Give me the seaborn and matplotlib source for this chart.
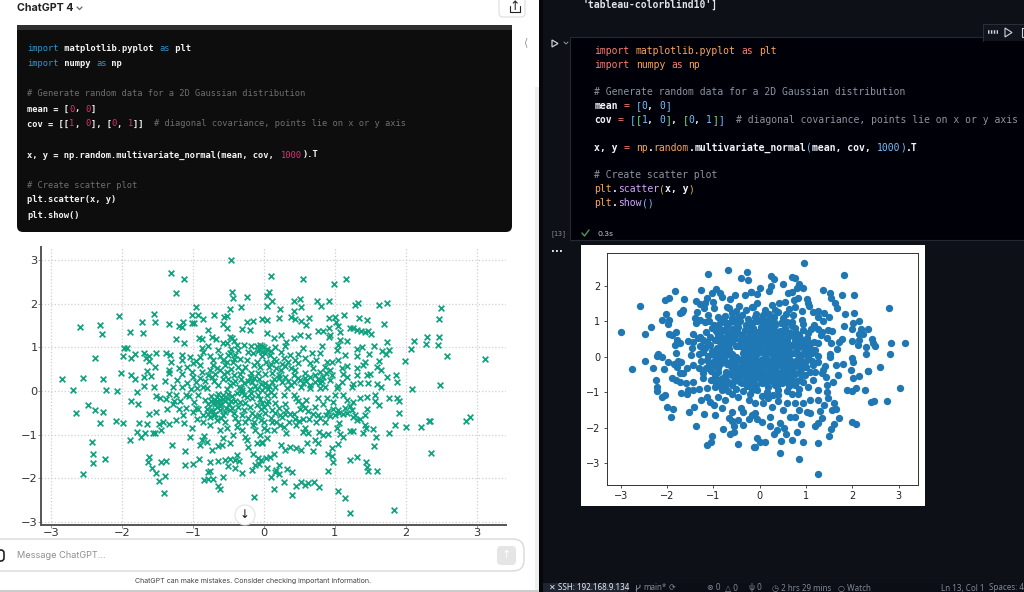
import matplotlib
matplotlib.use('Agg')
import matplotlib.pyplot as plt
from matplotlib.patches import Rectangle, FancyBboxPatch, Circle, Polygon
import pandas as pd
import seaborn as sns

W, H = 1024, 592

gpt_upper = [
    (-0.46,3.00),(-1.30,2.70),(-1.12,2.57),(-1.24,2.25),(-0.45,2.26),(-0.43,2.12),(-0.23,2.16),(-0.32,1.93),
    (-0.48,1.88),(-0.96,1.92),(-1.55,1.77),(-2.04,1.72),(-2.59,1.46),(-2.31,1.50),(-2.28,1.31),(-1.88,1.35),
    (-1.72,1.58),(-1.70,1.32),(-1.53,1.59),(-1.34,1.54),(-1.13,1.58),(-1.20,1.49),(-1.15,1.46),(-1.01,1.75),
    (-0.93,1.75),(-0.86,1.65),(-1.01,1.55),(-0.98,1.56),(-0.70,1.73),(-0.56,1.70),(-0.52,1.72),(-0.24,1.59),
    (-0.31,1.43),(-0.58,1.53),(-0.78,1.40),(-1.24,1.20),(-1.12,1.09),(-0.91,1.21),(-0.87,1.18),(-0.73,1.23),
    (-0.67,1.20),(-0.52,1.44),(-0.47,1.24),(-0.45,1.21),(-0.52,1.09),(-0.42,1.15),(-0.38,1.05),(-0.28,1.05),
    (-0.20,1.40),(-0.15,1.60),(0.10,2.63),(0.55,2.57),(0.99,2.44),(1.16,2.56),(0.08,2.26),(0.04,2.18),
    (0.12,2.07),(0.05,1.95),(0.42,2.05),(0.51,2.11),(0.52,1.92),(0.23,1.88),(0.43,1.83),(0.75,2.07),
    (0.81,1.95),(0.92,2.05),(1.28,1.96),(1.33,2.02),(1.62,1.96),(1.73,2.01),(2.50,1.89),(2.47,1.65),
    (1.13,1.74),(1.00,1.70),(0.92,1.66),(0.64,1.68),(0.21,1.66),(0.39,1.69),(0.44,1.64),(0.53,1.60),
    (0.60,1.50),(1.34,1.66),(1.46,1.62),(1.69,1.53),(-0.02,1.64),(0.05,1.63),(1.02,1.59),(1.05,1.49),
    (1.21,1.45),(1.26,1.45),(1.32,1.40),(1.37,1.38),(1.43,1.36),(1.47,1.37),(1.51,1.31),(0.77,1.38),
    (0.84,1.38),(0.92,1.44),(1.08,1.34),(0.94,1.28),(0.92,1.24),(1.17,1.15),(1.05,1.06),(1.07,1.17),
    (1.74,1.12),(1.56,1.03),(2.30,1.23),(2.29,1.08),(2.47,1.23),(2.46,1.05),(2.12,1.14),(2.08,0.97),
    (2.58,0.80),(3.12,0.73),(1.99,0.69),(2.48,0.14),(2.09,0.04),(1.86,0.37),(1.88,0.21),(1.74,0.31),
    (1.76,0.94),(1.67,0.92),(1.72,0.85),(1.48,0.84),(1.62,0.69),(1.60,0.54),(1.65,0.48),(1.59,0.16),
    (1.65,0.10),(1.38,1.00),(1.32,0.97),(1.32,0.79),(1.43,0.67),(1.40,0.60),(1.31,0.52),(1.32,0.37),
    (1.45,0.37),(1.50,0.40),(1.47,0.18),(1.36,0.18),(1.26,0.16),(1.04,0.11),(1.18,0.57),(1.10,0.52),
    (1.11,0.39),(1.18,0.33),(1.15,0.82),(1.03,0.94),(1.05,0.71),(0.96,0.67),(0.89,0.67),(0.82,1.02),
    (0.79,0.86),(0.68,0.86),(0.55,0.99),(0.37,0.82),(0.30,1.02),(0.32,1.13),(0.42,1.21),(0.51,1.28),
    (0.63,1.26),(0.25,1.28),(0.14,1.21),(0.04,1.32),(-0.03,1.02),(0.09,0.82),(0.28,0.75),(0.58,0.75),
    (0.49,0.63),(0.39,0.52),(0.65,0.63),(0.70,0.52),(0.79,0.44),(0.84,0.33),(0.72,0.37),(0.65,0.33),
    (0.18,0.52),(0.07,0.56),(0.21,0.37),(0.30,0.33),(0.42,0.37),(0.51,0.25),(0.42,0.21),(0.79,0.18),
    (0.65,0.14),(0.02,0.18),(0.16,0.10),(0.96,0.37),(0.93,0.25),
    (-2.84,0.28),(-2.54,0.30),(-2.26,0.27),(-2.01,0.42),(-1.87,0.37),(-1.81,0.27),(-1.69,0.33),(-1.65,0.46),
    (-1.59,0.35),(-1.53,0.56),(-1.39,0.24),(-1.34,0.48),(-1.34,0.42),(-1.20,0.53),(-1.15,0.39),(-1.08,0.18),
    (-1.01,0.44),(-0.99,0.63),(-1.04,0.77),(-0.90,0.60),(-0.87,0.44),(-0.78,0.37),(-0.73,0.33),(-0.87,0.98),
    (-0.78,1.04),(-0.85,0.90),(-0.76,0.79),(-0.71,0.71),(-0.64,0.94),(-0.57,1.09),(-0.47,0.86),(-0.43,0.67),
    (-0.36,0.94),(-0.22,0.90),(-0.10,1.02),(-0.05,1.05),(-0.15,0.86),(-0.26,0.56),(-0.10,0.67),(-0.33,0.40),
    (-0.19,0.33),(-0.62,0.48),(-0.52,0.44),(-0.66,0.52),(-0.43,0.18),(-0.64,0.14),(-0.85,0.10),(-1.15,0.10),
    (-1.55,0.10),(-1.69,0.11),(-1.97,0.98),(-1.92,0.98),(-1.98,0.81),(-1.87,0.75),(-1.81,0.85),(-1.69,0.88),
    (-1.62,0.81),(-1.66,0.75),(-1.62,0.69),(-1.52,0.88),(-1.38,0.86),(-1.32,0.82),(-1.31,0.67),(-1.15,0.82),
    (-1.15,0.71),(-2.38,0.75),
]
gpt_lower = [
    (-2.69,0.02),(-2.22,0.02),(-2.06,0.01),(-1.79,-0.02),(-2.64,-0.51),(-2.47,-0.33),(-2.38,-0.44),(-2.26,-0.48),
    (-2.30,-0.73),(-1.87,-0.23),(-1.77,-0.30),(-2.08,-0.68),(-1.98,-0.74),(-1.75,-0.73),(-1.65,-0.76),(-1.62,-0.53),
    (-1.52,-0.47),(-1.52,-0.11),(-1.46,-0.17),(-1.37,-0.18),(-1.33,-0.07),(-1.36,-0.41),(-1.48,-0.76),(-1.42,-0.72),
    (-1.33,-0.75),(-1.24,-0.66),(-1.12,-0.74),(-1.01,-0.84),(-1.45,-0.89),(-1.56,-0.96),(-1.53,-0.95),(-1.67,-0.97),
    (-1.78,-0.93),(-1.73,-1.05),(-1.89,-1.12),(-2.42,-1.17),(-2.40,-1.44),(-2.41,-1.64),(-2.23,-1.56),(-2.54,-1.91),
    (-1.62,-1.52),(-1.63,-1.62),(-1.57,-1.76),(-1.52,-1.87),(-1.47,-2.06),(-1.39,-1.95),(-1.40,-2.34),(-1.45,-1.63),
    (-1.37,-1.61),(-1.29,-1.24),(-1.11,-1.37),(-1.11,-1.69),(-1.00,-1.66),(-0.91,-1.56),(-1.04,-1.06),(-0.75,-1.63),
    (-0.64,-1.60),(-0.78,-1.85),(-0.75,-1.83),(-0.84,-2.04),(-0.78,-2.02),(-0.72,-2.02),(-0.58,-1.97),(-0.65,-2.18),
    (-0.62,-2.25),(-0.13,-2.43),(-0.54,-1.58),(-0.47,-1.56),(-0.50,-1.72),(-0.41,-1.76),(-0.38,-1.47),(-0.40,-1.58),
    (-0.35,-1.60),(-0.30,-1.88),(-0.17,-1.81),(-0.12,-1.69),(-0.06,-1.66),(-0.15,-1.45),(-0.08,-1.53),(-0.73,-1.35),
    (-0.90,-1.24),(-0.87,-1.12),(-0.84,-1.02),(-0.80,-1.16),(-0.64,-1.26),(-0.59,-1.24),(-0.57,-1.08),(-0.47,-1.20),
    (-0.43,-1.01),(-0.61,-0.89),(-0.76,-0.78),(-0.85,-0.70),(-0.52,-0.85),(-0.54,-0.72),(-0.38,-0.82),(-0.31,-0.89),
    (-0.24,-1.12),(-0.22,-1.27),(-0.26,-1.05),(-0.12,-0.89),(-0.10,-1.20),(-0.03,-1.16),(-0.05,-1.01),(-0.15,-0.78),
    (1.76,-0.15),(1.88,-0.15),(1.91,-0.24),(1.90,-0.50),(1.85,-0.78),(1.76,-0.97),(2.00,-0.82),(2.21,-0.83),
    (2.34,-0.68),(2.85,-0.69),(2.90,-0.60),(2.35,-1.42),(1.55,-1.26),(1.58,-1.05),(1.54,-0.87),(1.43,-0.78),
    (1.44,-0.84),(1.40,-0.95),(1.26,-0.91),(1.22,-0.92),(1.11,-1.05),(1.08,-0.99),(1.05,-1.22),(1.03,-0.85),
    (1.06,-0.73),(1.22,-1.59),(1.31,-1.52),(1.44,-1.63),(1.45,-1.73),(1.47,-1.84),(1.59,-1.82),(0.91,-1.82),
    (0.98,-1.62),(0.96,-1.48),(0.91,-1.43),(0.96,-1.31),(1.05,-2.29),(1.14,-2.44),(1.21,-2.78),(1.84,-2.73),
    (0.78,-2.19),(0.71,-2.08),(0.63,-2.11),(0.58,-2.14),(0.52,-2.08),(0.46,-2.18),(0.40,-2.38),(0.28,-2.09),
    (0.14,-2.24),(0.10,-1.96),(0.22,-1.91),(0.18,-1.81),(0.22,-1.69),(0.33,-1.79),(0.40,-1.86),(0.04,-1.76),
    (0.16,-1.86),(0.15,-1.45),(0.09,-1.50),(0.03,-1.54),(-0.04,-1.58),(0.69,-1.37),(0.53,-1.35),(0.46,-1.31),
    (0.37,-1.27),(0.30,-1.34),(0.24,-1.24),(0.61,-1.20),(0.76,-1.20),(0.78,-0.93),(0.84,-1.01),(0.91,-0.99),
    (0.72,-1.12),(0.55,-0.93),(0.58,-0.85),(0.63,-0.97),(0.32,-0.95),(0.23,-0.78),(0.18,-0.70),(0.14,-0.89),
    (0.04,-1.08),(-0.03,-1.20),(0.04,-0.89),(0.56,-0.63),(0.64,-0.63),(0.76,-0.55),(0.51,-0.41),(0.37,-0.53),
    (0.42,-0.53),(0.23,-0.55),(0.21,-0.40),(0.11,-0.44),(0.02,-0.51),(0.00,-0.70),(0.91,-0.46),(0.98,-0.41),
    (1.05,-0.44),(1.15,-0.40),(1.22,-0.34),(1.29,-0.55),(1.31,-0.66),(1.36,-0.63),(1.46,-0.41),(1.43,-0.56),
    (1.18,-0.21),(1.36,-0.17),(1.45,-0.13),(1.57,-0.09),(1.63,-0.31),(1.57,-0.23),(0.89,-0.17),(0.77,-0.17),
    (0.72,-0.36),(0.60,-0.21),(0.46,-0.17),(0.42,-0.08),(0.28,-0.09),(0.14,-0.09),(0.04,-0.09),(0.65,0.06),
    (0.79,0.06),(1.03,0.06),(1.24,0.10),(2.33,-0.68),
]
gpt_core = [
    (-0.71,-0.28),(-0.66,-0.22),(-0.62,-0.35),(-0.58,-0.18),(-0.74,-0.12),(-0.80,-0.42),(-0.86,-0.55),(-0.76,-0.60),
    (-0.68,-0.52),(-0.60,-0.62),(-0.55,-0.48),(-0.49,-0.30),(-0.45,-0.12),(-0.38,-0.05),(-0.33,-0.25),(-0.28,-0.44),
    (-0.22,-0.62),(-0.16,-0.50),(-0.10,-0.33),(-0.05,-0.18),(-0.02,0.03),(-0.12,0.12),(-0.20,0.05),(-0.28,0.18),
    (-0.35,0.10),(-0.52,0.04),(-0.58,0.27),(-0.70,0.22),(-0.80,0.06),(-0.92,-0.08),(-0.98,-0.25),(-1.05,-0.12),
    (-1.10,-0.38),(-1.00,-0.48),(-0.94,-0.65),(-1.18,-0.22),(-1.24,-0.08),(-1.28,-0.30),(-1.14,-0.55),(-0.96,0.20),
    (-0.90,0.30),(-0.50,0.28),(-0.42,0.36),(-0.16,0.20),(-0.08,0.42),(-0.05,0.55),(0.03,0.66),(0.12,0.42),
    (0.14,0.28),(0.26,0.20),(0.33,0.08),(0.52,0.10),(0.58,0.42),(0.73,0.72),(0.86,0.55),(0.93,0.47),
    (0.06,-0.22),(0.16,-0.28),(0.30,-0.30),(0.36,-0.70),(0.45,-0.78),(0.62,-0.46),(0.74,-0.70),(0.84,-0.30),
    (-0.40,-0.62),(-0.44,-0.40),(-0.36,-0.70),(-0.04,-0.42),(-0.04,-0.66),(0.00,-0.84),(-0.26,-0.28),(-0.50,-0.06),
    (-0.64,-0.06),(-0.83,-0.20),(-0.72,-0.46),(-0.66,-0.36),(-0.78,-0.30),(-0.48,0.14),(-0.32,0.28),(-0.14,0.60),
    (-0.24,0.72),(-0.02,0.80),(0.04,0.95),(0.18,0.68),(0.24,0.90),(0.44,0.48),(0.60,0.22),(0.24,0.48),
    (-0.58,0.72),(-0.62,0.80),(-0.52,0.66),(-0.90,0.78),(-0.96,0.68),(-0.72,0.60),(-0.08,0.92),(-0.18,1.02),
    (1.00,-0.10),(1.10,0.20),(0.86,0.10),(0.98,-0.25),(1.12,-0.10),(1.26,-0.26),(0.02,0.40),(-0.06,0.28),
]
gpt_dense = [
    (-0.74,-0.22),(-0.70,-0.20),(-0.68,-0.30),(-0.66,-0.14),(-0.64,-0.26),(-0.62,-0.20),(-0.60,-0.30),(-0.57,-0.10),
    (-0.55,-0.24),(-0.53,-0.38),(-0.51,-0.16),(-0.48,-0.44),(-0.78,-0.52),(-0.74,-0.44),(-0.70,-0.56),(-0.66,-0.66),
    (-0.62,-0.44),(-0.58,-0.56),(-0.42,-0.50),(-0.40,-0.22),(-0.36,-0.36),(-0.30,-0.56),(-0.26,-0.70),(-0.20,-0.36),
    (-0.16,-0.16),(-0.14,-0.72),(-0.12,-0.58),(-0.08,-0.10),(-0.06,-0.54),(-0.02,-0.28),(0.00,-0.36),(0.04,-0.30),
    (0.06,0.04),(0.08,0.12),(0.10,-0.02),(0.12,0.20),(0.02,0.10),(-0.04,0.16),(-0.10,0.04),(-0.14,0.30),
    (-0.18,0.42),(-0.22,0.22),(-0.30,0.46),(-0.36,0.54),(-0.40,0.24),(-0.46,0.50),(-0.54,0.60),(-0.56,0.38),
    (-0.68,0.40),(-0.76,0.48),(-0.82,0.24),(-1.00,0.32),(-1.08,0.54),(0.02,0.88),(0.00,1.00),(-0.06,0.96),
    (-0.03,0.90),(0.10,0.92),(0.16,1.00),(-0.46,0.96),(-0.50,0.82),(-0.40,0.82),(-0.34,0.74),(-0.42,0.74),
    (0.10,0.62),(0.14,0.74),(0.30,0.58),(0.34,0.66),(0.44,0.72),(0.48,0.84),(0.26,0.62),(0.22,0.30),
    (0.16,-0.50),(0.26,-0.60),(0.30,-0.52),(0.32,-0.44),(0.10,-0.62),(0.12,-0.72),(0.28,-0.82),(0.44,-0.64),
    (0.50,-0.68),(0.48,-0.24),(0.54,-0.30),(0.58,-0.40),(0.70,-0.52),(0.80,-0.62),(0.86,-0.72),(0.88,-0.56),
    (0.94,-0.58),(1.00,-0.56),(1.06,-0.50),(1.12,-0.52),(1.18,-0.50),(1.24,-0.44),(1.26,-0.60),(0.82,0.24),
    (0.76,0.28),(0.88,0.42),(0.72,0.20),(0.58,0.30),(0.56,0.18),(0.48,0.30),(0.34,0.22),(0.38,0.14),
    (-1.22,0.26),(-1.26,-0.22),(-1.20,-0.42),(-0.94,0.06),(-1.02,0.04),(-1.28,0.10),(-1.10,-0.10),(-0.96,-0.40),
    (-0.30,-0.02),(-0.24,-0.14),(-0.18,-0.04),(-0.30,0.02),(-0.28,-0.10),(-0.32,0.08),(-0.46,-0.22),(-0.92,-0.42),
]
nb_upper = [
    (-1.12,2.34),(-0.68,2.44),(-0.27,2.40),(-0.40,2.23),(-0.25,2.18),(-1.83,1.86),(-1.26,1.89),(-0.94,1.91),
    (-1.04,1.80),(-0.86,1.79),(-0.82,1.69),(-0.53,1.73),(-0.64,1.62),(-0.31,1.74),(-0.19,1.82),(-2.58,1.43),
    (-2.04,1.59),(-1.97,1.65),(-1.63,1.63),(-1.38,1.57),(-1.29,1.50),(-1.13,1.67),(-1.18,1.51),(-1.20,1.37),
    (-1.00,1.55),(-0.71,1.41),(-0.66,1.37),(-0.98,1.37),(-0.45,1.43),(-0.17,1.41),(-2.02,1.21),(-2.11,1.05),
    (-1.97,1.05),(-1.98,0.93),(-1.73,1.23),(-1.68,1.27),(-1.65,1.32),(-1.36,1.25),(-1.40,1.08),(-1.38,0.94),
    (-1.29,1.04),(-2.35,0.84),(-3.00,0.71),(-2.48,0.64),(-1.97,0.64),(-1.90,0.61),(-1.80,0.69),(-1.43,0.64),
    (-1.29,0.56),(-1.18,0.99),(-1.11,1.18),(-0.89,1.13),(-0.82,1.04),(-0.60,1.08),(-0.39,1.18),(-1.04,0.80),
    (-0.89,0.83),(-0.71,0.87),(-0.46,0.85),(-0.17,0.94),(-1.79,0.47),(-1.84,0.32),(-1.73,0.40),(-1.80,0.11),
    (-1.54,0.45),(-1.43,0.42),(-1.47,0.26),(-1.25,0.28),(-1.49,0.05),(-1.32,0.09),(-2.19,0.09),(-2.22,0.02),
    (-2.10,-0.02),(-2.48,-0.11),(-2.76,-0.36),(-2.31,-0.31),(-2.07,-0.34),(-1.99,-0.14),(-1.86,-0.21),(-1.79,-0.30),
    (-1.76,-0.11),(-1.69,-0.14),(-1.56,-0.31),(-1.43,-0.24),(-1.32,-0.33),(-1.14,-0.09),(-1.22,0.14),(-1.07,0.33),
    (-0.96,0.47),(-0.86,0.66),(-0.68,0.56),(-0.53,0.61),(-0.93,0.05),(-0.78,0.28),(-0.60,0.09),(-0.39,0.38),
    (-0.17,0.47),(-0.32,0.75),(-1.00,-0.14),(-0.89,-0.33),(-0.64,-0.24),(-0.39,-0.14),(-0.17,0.00),
    (0.96,2.66),(1.83,2.30),(0.25,2.28),(0.30,2.20),(0.69,2.24),(0.76,2.22),(0.50,2.06),(0.01,1.95),
    (0.84,2.06),(0.94,1.95),(0.24,2.00),(0.20,1.86),(-0.06,1.76),(-0.19,1.84),(0.80,1.93),(0.69,1.84),
    (0.62,1.79),(1.37,1.89),(1.51,1.79),(1.54,1.65),(1.78,1.75),(2.04,1.73),(1.63,1.51),(1.68,1.37),
    (2.80,1.39),(0.74,1.60),(0.83,1.67),(1.02,1.62),(1.04,1.51),(1.07,1.43),(0.55,1.55),(0.42,1.53),
    (0.26,1.45),(-0.06,1.51),(-0.14,1.41),(0.76,1.41),(0.64,1.34),(0.91,1.28),(1.16,1.25),(1.25,1.30),
    (1.39,1.24),(1.26,1.13),(1.50,1.11),(1.37,1.00),(1.84,1.21),(2.03,1.23),(0.40,1.27),(0.12,1.32),
    (0.08,1.18),(0.51,1.08),(0.73,1.18),(0.91,1.05),(0.69,0.99),(0.94,0.92),(1.17,0.89),(1.83,0.86),
    (2.01,0.95),(2.15,1.01),(2.00,0.77),(1.26,0.77),(1.35,0.71),(1.48,0.75),(1.57,0.72),(1.32,0.61),
    (1.05,0.66),(0.94,0.75),(0.76,0.80),(2.19,0.77),(2.35,0.77),(2.15,0.64),(2.24,0.64),(1.46,0.52),
    (1.54,0.38),(1.77,0.49),(1.72,0.42),(2.00,0.43),(2.15,0.47),(2.13,0.33),(2.42,0.49),(2.45,0.38),
    (2.48,0.30),(2.30,0.28),(2.30,0.09),(2.84,0.40),(3.13,0.38),(2.82,0.08),(1.68,0.21),(1.17,0.42),
    (1.27,0.38),(0.98,0.24),(1.09,0.24),(0.94,0.09),(1.05,0.11),(1.25,0.03),(1.52,0.09),(1.52,-0.02),
    (1.99,-0.05),(2.02,-0.14),(1.81,-0.21),(1.64,-0.24),(1.98,-0.37),(2.33,-0.39),(2.60,-0.29),(1.41,-0.26),
    (1.36,-0.38),(1.27,-0.14),(1.12,-0.11),(0.98,-0.14),(1.16,-0.24),(0.91,-0.31),(0.66,0.09),(0.66,0.28),
    (0.76,0.47),(1.02,0.52),(0.51,0.38),(0.51,0.66),(0.33,0.89),(0.22,0.66),(0.08,0.94),(-0.10,1.13),
    (-0.14,0.80),(0.04,0.47),(0.22,0.28),(-0.06,0.19),(0.40,0.05),(0.12,0.05),(-0.14,0.05),(0.73,-0.14),
    (0.51,-0.24),(0.22,-0.28),(-0.06,-0.33),
]
nb_lower = [
    (-2.23,-0.66),(-2.22,-0.85),(-2.22,-0.97),(-2.04,-1.08),(-2.10,-1.13),(-2.00,-1.41),(-1.88,-1.48),(-1.92,-1.69),
    (-1.53,-1.55),(-1.42,-1.43),(-1.21,-1.63),(-1.38,-1.96),(-1.27,-1.22),(-1.90,-0.61),(-1.81,-0.66),(-1.72,-0.71),
    (-1.59,-0.75),(-1.45,-0.71),(-1.70,-1.02),(-1.58,-1.05),(-1.54,-0.94),(-1.43,-0.94),(-1.31,-0.92),(-1.72,-0.45),
    (-1.65,-0.45),(-1.02,-2.24),(-1.05,-2.40),(-1.14,-2.50),(-0.79,-2.03),(-0.64,-2.17),(-0.56,-2.12),(-0.55,-1.96),
    (-0.46,-2.47),(-0.67,-1.74),(-0.60,-1.81),(-0.60,-1.55),(-0.46,-1.79),(-0.35,-1.93),(-0.24,-1.77),(-0.10,-1.60),
    (-0.12,-2.54),(-0.41,-1.46),(-0.35,-1.55),(-0.82,-1.46),(-0.96,-1.65),(-0.99,-1.37),(-1.07,-1.27),(-1.14,-1.13),
    (-1.14,-0.89),(-1.22,-0.61),(-1.22,-0.47),(-0.96,-0.85),(-0.82,-0.94),(-0.75,-1.22),(-0.89,-1.13),(-0.60,-1.04),
    (-0.46,-1.13),(-0.24,-1.22),(-0.17,-0.94),(-0.39,-0.75),(-0.60,-0.80),(-0.82,-0.66),(-0.60,-0.52),(-0.96,-0.52),
    (-0.24,-0.56),(-0.39,-0.42),(-0.13,-0.75),
    (3.02,-0.89),(2.76,-1.24),(2.46,-1.24),(2.40,-1.27),(2.28,-0.94),(2.08,-0.88),(2.00,-0.97),(1.89,-0.94),
    (2.15,-0.55),(2.02,-0.61),(2.33,-0.40),(1.99,-1.85),(2.08,-1.90),(1.72,-1.72),(1.61,-1.89),(1.54,-2.05),
    (1.50,-2.23),(1.26,-2.43),(0.93,-2.41),(0.85,-2.89),(1.27,-3.31),(0.44,-2.71),(0.46,-2.39),(0.70,-2.34),
    (0.81,-2.12),(0.89,-1.91),(1.19,-1.96),(1.27,-1.88),(1.34,-1.74),(1.65,-1.49),(1.56,-1.51),(1.47,-1.18),
    (1.61,-1.32),(1.38,-1.37),(1.30,-1.53),(1.09,-1.58),(1.02,-1.55),(0.94,-1.32),(0.76,-1.32),(0.60,-1.32),
    (0.40,-1.25),(0.66,-1.71),(0.76,-1.71),(0.84,-1.51),(0.51,-1.51),(0.22,-1.96),(0.37,-2.07),(0.30,-2.18),
    (0.44,-1.86),(0.53,-2.02),(0.57,-2.18),(-0.05,-2.31),(-0.10,-2.54),(0.01,-2.40),(0.12,-2.40),(0.04,-1.84),
    (-0.06,-1.77),(-0.17,-1.65),(0.22,-1.70),(0.08,-1.32),(-0.10,-1.32),(0.26,-1.41),(0.19,-1.18),(0.40,-0.94),
    (0.15,-0.99),(-0.06,-0.94),(0.69,-1.04),(0.83,-1.04),(1.09,-1.22),(1.27,-1.22),(1.05,-0.85),(1.27,-0.94),
    (1.45,-0.99),(1.46,-0.80),(0.87,-0.66),(0.98,-0.52),(1.16,-0.66),(1.34,-0.47),(1.43,-0.58),(1.59,-0.71),
    (1.70,-0.52),(0.58,-0.56),(0.48,-0.75),(0.22,-0.66),(0.01,-0.61),(-0.17,-0.75),(0.22,-0.42),(0.58,-0.42),
    (1.19,-0.42),
]
nb_core = [
    (-0.90,0.62),(-0.78,0.52),(-0.70,0.70),(-0.58,0.78),(-0.46,0.66),(-0.34,0.56),(-0.24,0.70),(-0.10,0.62),
    (0.02,0.72),(0.14,0.82),(0.28,0.76),(0.40,0.62),(0.54,0.82),(0.62,0.55),(0.36,0.46),(0.22,0.50),
    (0.10,0.34),(-0.04,0.36),(-0.20,0.28),(-0.34,0.18),(-0.52,0.30),(-0.66,0.36),(-0.84,0.14),(-0.72,0.06),
    (-0.52,-0.02),(-0.34,0.02),(-0.24,0.14),(-0.04,0.10),(0.16,0.16),(0.30,0.18),(0.46,0.22),(0.58,-0.04),
    (0.80,0.22),(0.84,0.06),(0.76,-0.26),(0.62,-0.34),(0.40,-0.14),(0.30,-0.40),(0.08,-0.18),(-0.10,-0.12),
    (-0.26,-0.24),(-0.48,-0.30),(-0.72,-0.42),(-0.86,-0.22),(-0.78,-0.56),(-0.70,-0.70),(-0.50,-0.64),(-0.30,-0.66),
    (-0.12,-0.50),(0.04,-0.44),(0.12,-0.58),(0.34,-0.58),(0.46,-0.46),(0.66,-0.60),(0.76,-0.50),(0.84,-0.42),
    (-1.02,0.16),(-1.10,-0.24),(-1.06,-0.40),(-1.08,0.56),(-1.14,0.42),(-0.98,0.90),(-0.76,1.16),(-0.60,1.24),
    (-0.42,1.02),(-0.26,1.06),(-0.06,1.00),(0.18,1.04),(0.30,1.12),(0.46,0.96),(0.60,0.98),(0.30,0.98),
    (-0.30,0.90),(-0.54,0.98),(-0.86,0.96),(-0.04,0.58),(-0.08,0.42),(0.46,0.50),(0.66,0.66),(-0.42,0.48),
    (-0.60,0.44),(-0.12,0.26),(0.30,-0.04),(0.10,-0.04),(0.54,0.10),(-0.90,-0.04),(-0.62,-0.12),(-0.44,-0.54),
    (-0.18,-0.28),(0.14,-0.74),(0.34,-0.80),(0.64,-0.84),(0.76,-0.80),(-0.28,-0.84),(-0.52,-0.92),(-0.74,-0.84),
]
nb_dense = [
    (-0.95,0.72),(-0.88,0.44),(-0.82,0.34),(-0.74,0.44),(-0.66,0.22),(-0.62,0.62),(-0.56,0.50),(-0.50,0.72),
    (-0.44,0.30),(-0.38,0.60),(-0.32,0.40),(-0.30,0.22),(-0.28,0.54),(-0.22,0.60),(-0.20,0.44),(-0.16,0.32),
    (-0.14,0.62),(-0.10,0.50),(-0.06,0.70),(-0.02,0.26),(0.00,0.60),(0.02,0.84),(0.06,0.54),(0.08,0.70),
    (0.10,0.48),(0.12,0.60),(0.14,0.40),(0.16,0.70),(0.18,0.54),(0.20,0.86),(0.24,0.40),(0.26,0.56),
    (0.28,0.44),(0.30,0.64),(0.32,0.32),(0.34,0.74),(0.36,0.20),(0.38,0.56),(0.42,0.34),(0.44,0.74),
    (0.48,0.12),(0.50,0.50),(0.54,0.30),(0.56,0.72),(0.60,0.44),(0.62,0.16),(0.70,0.32),(0.72,0.60),
    (0.80,0.36),(0.86,0.30),(-0.90,-0.44),(-0.84,-0.62),(-0.78,-0.10),(-0.70,-0.20),(-0.66,-0.50),(-0.60,-0.32),
    (-0.56,-0.70),(-0.54,-0.18),(-0.50,-0.42),(-0.46,-0.06),(-0.42,-0.72),(-0.38,-0.28),(-0.36,0.10),(-0.34,-0.54),
    (-0.30,-0.12),(-0.28,-0.40),(-0.24,-0.02),(-0.22,-0.72),(-0.20,-0.18),(-0.18,-0.42),(-0.16,0.12),(-0.14,-0.62),
    (-0.12,-0.30),(-0.10,-0.02),(-0.08,-0.80),(-0.06,-0.48),(-0.04,-0.24),(-0.02,0.14),(0.00,-0.62),(0.02,-0.10),
    (0.04,-0.30),(0.06,-0.74),(0.08,-0.52),(0.10,0.14),(0.12,-0.24),(0.14,-0.42),(0.16,-0.06),(0.18,-0.86),
    (0.20,-0.14),(0.24,-0.52),(0.26,0.08),(0.28,-0.72),(0.30,-0.22),(0.32,-0.56),(0.34,0.02),(0.36,-0.30),
    (0.38,-0.84),(0.40,-0.46),(0.42,-0.66),(0.44,-0.24),(0.46,-0.04),(0.50,-0.34),(0.52,-0.60),(0.54,-0.12),
    (0.58,-0.30),(0.60,-0.72),(0.64,-0.20),(0.70,-0.38),(0.72,-0.68),(0.80,-0.10),(0.86,-0.26),(0.90,-0.50),
    (-1.16,0.70),(-1.22,0.48),(-1.18,0.24),(-1.30,0.30),(-1.12,0.02),(-1.26,-0.12),(-1.16,-0.32),(-1.34,0.54),
    (-1.06,-0.66),(-0.94,-0.78),(-1.10,1.02),(-0.66,0.94),(-0.46,1.12),(-0.24,0.84),(-0.08,1.22),(0.04,1.10),
    (0.20,1.20),(0.34,1.32),(0.56,1.22),(-0.52,1.30),(-0.30,1.32),(-0.74,0.98),(1.00,0.36),(1.04,-0.02),
    (1.12,0.10),(1.08,-0.44),(1.20,0.18),(0.94,-0.72),(0.84,0.62),(1.10,0.78),(0.84,-0.92),(0.58,-0.98),
    (0.28,-1.08),(0.06,-1.12),(-0.20,-1.06),(-0.36,-0.96),(-0.68,-0.96),(0.40,-1.08),
    (-0.98,0.06),(-0.92,0.26),(-0.96,-0.26),(-0.88,-0.10),(-0.82,0.02),(-0.80,0.76),(-0.84,0.50),(-0.76,0.16),
    (-0.94,-0.62),(-0.86,-0.82),(-0.64,0.08),(-0.60,-0.08),(0.92,0.44),(0.96,0.12),(0.90,-0.10),(1.00,-0.30),
    (0.88,0.52),(0.70,0.88),(0.78,0.68),(0.66,-0.08),(0.74,0.10),(0.80,-0.68),(0.68,-0.46),(1.08,0.40),
]

sns.set_theme(style="white")
plt.rcParams['font.family'] = ['DejaVu Sans']

fig = plt.figure(figsize=(W / 100, H / 100), dpi=100, facecolor="white")
bg = fig.add_axes([0, 0, 1, 1])
bg.set_xlim(0, W)
bg.set_ylim(H, 0)
bg.axis("off")


def box(x0, y0, x1, y1, color, z=1, **kw):
    bg.add_patch(Rectangle((x0, y0), x1 - x0, y1 - y0, facecolor=color, edgecolor="none", zorder=z, **kw))


def rounded(x0, y0, x1, y1, r, face, edge="none", z=1, lw=1):
    bg.add_patch(FancyBboxPatch((x0 + r, y0 + r), x1 - x0 - 2 * r, y1 - y0 - 2 * r,
                                boxstyle=f"round,pad={r},rounding_size={r}",
                                facecolor=face, edgecolor=edge, linewidth=lw, zorder=z))


def code_line(x, y, tokens, char_w, size):
    col = 0
    for word, color in tokens:
        bg.text(x + col * char_w, y, word, color=color, fontsize=size, family="DejaVu Sans Mono",
                va="center", ha="left", zorder=5, fontweight="bold" if color in (TXT, WHT) else "normal")
        col += len(word)


# ── left pane: chat window ──
bg.text(17, 8, "ChatGPT 4", fontsize=7.7, fontweight="bold", family="Inter", color="#222222", va="center")
bg.plot([77, 79.5, 82], [7, 9.5, 7], color="#666666", lw=0.9)
rounded(499, -3, 525, 17, 4, "white", "#e3e3e3")
bg.text(515, 7, "↑", fontsize=9, ha="center", va="center", color="#222222")
bg.plot([510, 510, 520, 520], [6, 12, 12, 6], color="#222222", lw=0.8)
bg.text(526, 42, "⟨", fontsize=8, ha="center", va="center", color="#999999")

rounded(17, 25, 512, 232, 6, "#0d0d0d")
box(17, 25, 512, 30, "#2f2f2f", z=2)

KW, TXT, COM, NUM = "#2e95d3", "#f4f4f4", "#6e6e6e", "#df3079"
WHT = "#f0f6fc"
gpt_code = [
    (48.5, [("import", KW), (" matplotlib.pyplot ", TXT), ("as", KW), (" plt", TXT)]),
    (63.5, [("import", KW), (" numpy ", TXT), ("as", KW), (" np", TXT)]),
    (94, [("# Generate random data for a 2D Gaussian distribution", COM)]),
    (109, [("mean = [", TXT), ("0", NUM), (", ", TXT), ("0", NUM), ("]", TXT)]),
    (124, [("cov = [[", TXT), ("1", NUM), (", ", TXT), ("0", NUM), ("], [", TXT), ("0", NUM), (", ", TXT),
           ("1", NUM), ("]]  ", TXT), ("# diagonal covariance, points lie on x or y axis", COM)]),
    (155, [("x, y = np.random.multivariate_normal(mean, cov, ", TXT), ("1000", NUM), (").T", TXT)]),
    (185, [("# Create scatter plot", COM)]),
    (200, [("plt.scatter(x, y)", TXT)]),
    (215, [("plt.show()", TXT)]),
]
for y, tokens in gpt_code:
    code_line(27, y, tokens, 5.3, 6.35)

rounded(-20, 539, 524, 571, 11, "white", "#d9d9d9")
bg.text(17, 555.5, "Message ChatGPT...", fontsize=6.6, family="Inter", color="#8e8e8e", va="center")
rounded(497, 546, 516, 565, 4, "#e5e5e5")
bg.text(506.5, 555, "↑", fontsize=8, color="white", ha="center", va="center", zorder=3)
rounded(-3, 550, 4, 561, 3, "none", "#111111", z=3, lw=1.1)
bg.text(253, 581.5, "ChatGPT can make mistakes. Consider checking important information.",
        fontsize=5.1, family="Inter", color="#444444", ha="center", va="center")
box(0, 590, 539, 592, "#cccccc")
box(535, 87, 539, 590, "#efefef")

# ── right pane: notebook ──
box(539, 0, W, H, "#0d1017", z=0.5)
box(539, 0, 543, H, "#05070b", z=0.6)
box(570, 37, W, 240, "#000008", z=0.7)
bg.plot([W, 570, 570, W], [37, 37, 240, 240], color="#232833", lw=0.8, zorder=0.8)
box(983, 24, W, 41, "#11141c", z=0.9)
bg.plot([983, 983, W], [41, 24, 24], color="#2a2f3a", lw=0.7, zorder=1)
bg.plot([988, 998], [32, 32], color="#cfd3da", lw=2.6, ls=(0, (0.4, 0.4)), zorder=2)
bg.add_patch(Polygon([[1005, 28], [1005, 37], [1012, 32.5]], fill=False, edgecolor="#cfd3da", lw=0.8, zorder=2))
bg.add_patch(Rectangle((1022, 28), 5, 9, fill=False, edgecolor="#cfd3da", lw=0.8, zorder=2))
bg.add_patch(Polygon([[552, 40], [552, 47], [558, 43.5]], fill=False, edgecolor="#c8ccd3", lw=0.9, zorder=2))
bg.plot([564, 566, 568], [42, 44, 42], color="#9097a3", lw=0.7, zorder=2)

bg.text(583, 5, "'tableau-colorblind10']", fontsize=7.05, family="DejaVu Sans Mono", color="#dfe3ea",
        va="center", fontweight="bold")

RED, ORG, GRY, BLU, PUR, YEL = "#ff7b72", "#ffa657", "#8b949e", "#79c0ff", "#d2a8ff", "#e3b341"
GRN = "#7ee787"
nb_code = [
    (50.5, [("import", RED), (" ", WHT), ("matplotlib.pyplot", ORG), (" ", WHT), ("as", RED), (" ", WHT), ("plt", ORG)]),
    (64.5, [("import", RED), (" ", WHT), ("numpy", ORG), (" ", WHT), ("as", RED), (" ", WHT), ("np", ORG)]),
    (92, [("# Generate random data for a 2D Gaussian distribution", GRY)]),
    (106, [("mean", WHT), (" ", WHT), ("=", RED), (" ", WHT), ("[", BLU), ("0", BLU), (", ", WHT), ("0", BLU), ("]", BLU)]),
    (120, [("cov", WHT), (" ", WHT), ("=", RED), (" ", WHT), ("[", BLU), ("[", GRN), ("1", BLU), (", ", WHT), ("0", BLU),
           ("]", GRN), (", ", WHT), ("[", GRN), ("0", BLU), (", ", WHT), ("1", BLU), ("]", GRN), ("]", BLU), ("  ", WHT),
           ("# diagonal covariance, points lie on x or y axis", GRY)]),
    (148, [("x, y ", WHT), ("=", RED), (" ", WHT), ("np", ORG), (".", WHT), ("random", ORG), (".", WHT),
           ("multivariate_normal", WHT), ("(", BLU), ("mean, cov, ", WHT), ("1000", BLU), (")", BLU), (".T", WHT)]),
    (175, [("# Create scatter plot", GRY)]),
    (189, [("plt", ORG), (".", WHT), ("scatter", PUR), ("(", YEL), ("x, y", WHT), (")", YEL)]),
    (203, [("plt", ORG), (".", WHT), ("show", PUR), ("()", BLU)]),
]
for y, tokens in nb_code:
    code_line(594.5, y, tokens, 5.88, 7.05)

bg.text(559, 233.5, "[13]", fontsize=4.8, family="DejaVu Sans Mono", color="#8b8f98", ha="center", va="center")
bg.plot([582, 584.5, 589], [233, 236, 230], color="#4c9a5b", lw=1, zorder=2)
bg.text(597, 234, "0.3s", fontsize=5.6, family="Inter", color="#c6cad1", va="center")
bg.text(557, 249.5, "...", fontsize=7.5, color="#d8dbe0", ha="center", va="center", fontweight="bold")
box(581, 245, 925, 506, "white", z=1)

# status bar
box(543, 583, W, H, "#0b0e14", z=1)
box(543, 583, 628, H, "#1e2431", z=1.2)
status = [(549, "✕ SSH: 192.168.9.134", "#e8eaee"), (643, "main*", "#7f8794"), (669, "⟳", "#7f8794"),
          (707, "⊗ 0", "#7f8794"), (725, "△ 0", "#7f8794"), (749, "ψ 0", "#7f8794"),
          (772, "◷ 2 hrs 29 mins", "#7f8794"), (838, "○ Watch", "#7f8794"),
          (941, "Ln 13, Col 1", "#7f8794"), (989, "Spaces: 4", "#7f8794")]
for x, label, color in status:
    bg.text(x, 588, label, fontsize=5.8, family=["Noto Sans", "DejaVu Sans"], color=color, va="center", zorder=3)
# branch icon next to main*
bg.plot([636, 636], [585, 591], color="#7f8794", lw=0.7, zorder=3)
bg.plot([636, 640, 640], [590, 587, 585], color="#7f8794", lw=0.7, zorder=3)

# ── left scatter ──
gpt_df = pd.DataFrame(gpt_upper + gpt_lower + gpt_core + gpt_dense, columns=["x", "y"])
ax1 = fig.add_axes([41 / W, 1 - 525 / H, (506 - 41) / W, (525 - 247) / H])
ax1.patch.set_alpha(0)
sns.scatterplot(data=gpt_df, x="x", y="y", marker="x", color="#10a37f", s=17, linewidth=1.25, ax=ax1, zorder=3)
ax1.set_xlim(-3.137, 3.413)
ax1.set_ylim(-3.066, 3.295)
ax1.set_xticks(range(-3, 4))
ax1.set_yticks(range(-3, 4))
ax1.set_xlabel("")
ax1.set_ylabel("")
ax1.grid(True, linestyle=":", color="#cfcfcf", linewidth=0.9)
ax1.set_axisbelow(True)
sns.despine(ax=ax1)
for side in ["left", "bottom"]:
    ax1.spines[side].set_color("#555555")
    ax1.spines[side].set_linewidth(1.4)
ax1.tick_params(axis="both", length=2, width=0.7, color="#999999", labelsize=8.2, labelcolor="#333333", pad=0.5,
                bottom=True, left=True)

bg2 = fig.add_axes([0, 0, 1, 1], zorder=4)
bg2.set_xlim(0, W)
bg2.set_ylim(H, 0)
bg2.axis("off")
bg2.add_patch(Circle((245, 515), 10, facecolor="white", edgecolor="#e3e3e3", lw=0.8))
bg2.text(245, 515, "↓", fontsize=8.5, ha="center", va="center", color="#111111")

# ── right scatter ──
nb_df = pd.DataFrame(nb_upper + nb_lower + nb_core + nb_dense, columns=["x", "y"])
ax2 = fig.add_axes([606.7 / W, 1 - 485 / H, (918.3 - 606.7) / W, (485 - 252.7) / H])
sns.scatterplot(data=nb_df, x="x", y="y", color="#1f77b4", s=28, linewidth=0, ax=ax2)
ax2.set_xlim(-3.305, 3.426)
ax2.set_ylim(-3.624, 2.938)
ax2.set_xticks(range(-3, 4))
ax2.set_yticks(range(-3, 3))
ax2.set_xlabel("")
ax2.set_ylabel("")
for spine in ax2.spines.values():
    spine.set_visible(True)
    spine.set_color("#333333")
    spine.set_linewidth(0.7)
ax2.tick_params(axis="both", length=2.5, width=0.6, color="#333333", labelsize=7, labelcolor="#222222", pad=2,
                bottom=True, left=True)

fig.savefig("out.png", dpi=100)
